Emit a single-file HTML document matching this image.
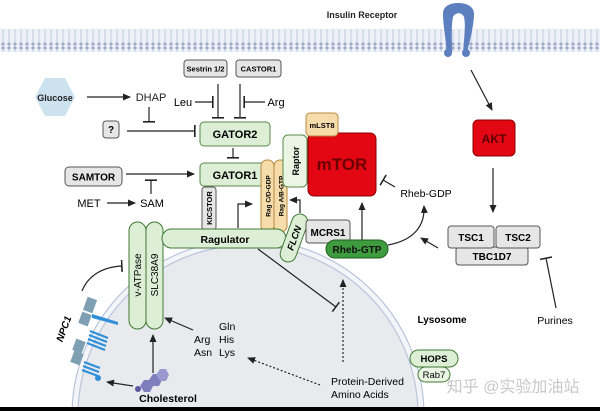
<!DOCTYPE html>
<html><head><meta charset="utf-8"><style>
html,body{margin:0;padding:0;background:#fff;width:600px;height:411px;overflow:hidden;}
svg{display:block;font-family:"Liberation Sans","Noto Sans CJK SC",sans-serif;}
.b{font-weight:bold;}
</style></head><body>
<svg width="600" height="411" viewBox="0 0 600 411" xmlns="http://www.w3.org/2000/svg">
<defs>
<marker id="a" markerWidth="8" markerHeight="8" refX="7" refY="4" orient="auto" markerUnits="userSpaceOnUse"><path d="M0,0.5 L8,4 L0,7.5 Z" fill="#222"/></marker>
<marker id="t" markerWidth="2" markerHeight="12" refX="1" refY="6" orient="auto" markerUnits="userSpaceOnUse"><rect x="0" y="0" width="1.6" height="12" fill="#222"/></marker>
<pattern id="mem" width="6" height="23" patternUnits="userSpaceOnUse"><rect width="6" height="23" fill="#eef2f8"/><circle cx="3" cy="2" r="1.6" fill="#9aa9c6"/><circle cx="3" cy="21" r="1.6" fill="#9aa9c6"/><line x1="2.5" y1="4" x2="2.5" y2="19" stroke="#c5cfe0" stroke-width="0.6"/><line x1="3.8" y1="4" x2="3.8" y2="19" stroke="#c5cfe0" stroke-width="0.6"/></pattern>
</defs>
<rect width="600" height="411" fill="#fff"/>
<rect x="0" y="29" width="600" height="23" fill="url(#mem)"/>
<path d="M447,53 C446,40 443,25 443,14 C443,6 450,3 458,3 C466,3 474,6 474,14 C474,25 470,40 467,53 L463,53 C464,40 466,26 464,17 C462,12 455,12 453,17 C451,26 452,40 452,53 Z" fill="#5b7fbf"/>
<circle cx="448" cy="53" r="4" fill="#5b7fbf"/><circle cx="466" cy="53" r="4" fill="#5b7fbf"/>
<text x="362" y="18" font-size="9" class="b" text-anchor="middle" fill="#222">Insulin Receptor</text>
<path d="M72.2,407 A176,176 0 0 1 423.8,407 Z" fill="#f4f5f8"/>
<path d="M72.2,407 A176,176 0 0 1 423.8,407" fill="none" stroke="#b9c4dc" stroke-width="1.2"/>
<path d="M78.2,407 A170,170 0 0 1 417.8,407 Z" fill="#e9eaee"/>
<path d="M78.2,407 A170,170 0 0 1 417.8,407" fill="none" stroke="#b9c4dc" stroke-width="1.2"/>
<polygon points="45,78 65,78 75,97 65,116 45,116 35,97" fill="#cde2ef"/>
<text x="55" y="101" font-size="9" class="b" text-anchor="middle" fill="#222">Glucose</text>
<g stroke="#222" stroke-width="1.2" fill="none">
<line x1="87" y1="97" x2="130" y2="97" marker-end="url(#a)"/>
<line x1="149" y1="107" x2="149" y2="122" marker-end="url(#t)"/>
<line x1="127" y1="131" x2="195" y2="131" marker-end="url(#t)"/>
<line x1="195" y1="102" x2="213" y2="102" marker-end="url(#t)"/>
<line x1="265" y1="102" x2="244" y2="102" marker-end="url(#t)"/>
<line x1="218" y1="84" x2="218" y2="118" marker-end="url(#t)"/>
<line x1="240" y1="84" x2="240" y2="118" marker-end="url(#t)"/>
<line x1="233" y1="148" x2="233" y2="158" marker-end="url(#t)"/>
<line x1="126" y1="174" x2="194" y2="174" marker-end="url(#a)"/>
<line x1="151" y1="194" x2="151" y2="180" marker-end="url(#t)"/>
<line x1="107" y1="203" x2="135" y2="203" marker-end="url(#a)"/>
<polyline points="238,228 238,204 252,204" marker-end="url(#a)"/>
<polyline points="300,213 300,200 290,200" marker-end="url(#a)"/>
<line x1="362" y1="240" x2="362" y2="203" marker-end="url(#a)"/>
<line x1="395" y1="187" x2="383" y2="180" marker-end="url(#t)"/>
<path d="M388,245 C415,240 425,225 424,206" marker-end="url(#a)"/>
<line x1="471" y1="70" x2="492" y2="110" marker-end="url(#a)"/>
<line x1="493" y1="168" x2="493" y2="212" marker-end="url(#a)"/>
<line x1="438" y1="248" x2="421" y2="238" marker-end="url(#a)"/>
<line x1="556" y1="308" x2="546" y2="258" marker-end="url(#t)"/>
<line x1="258" y1="249" x2="336" y2="307" marker-end="url(#t)"/>
<line x1="343" y1="362" x2="343" y2="280" stroke-dasharray="2,2" marker-end="url(#a)"/>
<line x1="320" y1="385" x2="248" y2="358" stroke-dasharray="2,2" marker-end="url(#a)"/>
<line x1="193" y1="330" x2="165" y2="318" marker-end="url(#a)"/>
<line x1="153" y1="373" x2="153" y2="335" marker-end="url(#a)"/>
<line x1="133" y1="386" x2="107" y2="382" marker-end="url(#a)"/>
<path d="M82,291 C88,276 102,267 122,266" marker-end="url(#t)"/>
</g>
<text x="151" y="101" font-size="11" text-anchor="middle" fill="#222">DHAP</text>
<rect x="103" y="121" width="16" height="17" rx="3" fill="#e6e6e6" stroke="#555"/>
<text x="111" y="133" font-size="10" class="b" text-anchor="middle">?</text>
<rect x="184" y="60" width="43" height="17" rx="3" fill="#e6e6e6" stroke="#555"/>
<text x="205.5" y="71.5" font-size="7.5" class="b" text-anchor="middle">Sestrin 1/2</text>
<rect x="236" y="60" width="45" height="17" rx="3" fill="#e6e6e6" stroke="#555"/>
<text x="258.5" y="71.5" font-size="7.5" class="b" text-anchor="middle">CASTOR1</text>
<text x="183" y="106" font-size="11" text-anchor="middle">Leu</text>
<text x="276" y="106" font-size="11" text-anchor="middle">Arg</text>
<rect x="200" y="122" width="70" height="24" rx="4" fill="#dcefd6" stroke="#5a8a4a"/>
<text x="235" y="138" font-size="11" class="b" text-anchor="middle">GATOR2</text>
<rect x="200" y="163" width="70" height="23" rx="4" fill="#dcefd6" stroke="#5a8a4a"/>
<text x="235" y="179" font-size="11" class="b" text-anchor="middle">GATOR1</text>
<rect x="65" y="167" width="57" height="19" rx="4" fill="#e6e6e6" stroke="#555"/>
<text x="93.5" y="180.5" font-size="10" class="b" text-anchor="middle">SAMTOR</text>
<text x="89" y="207" font-size="11" text-anchor="middle">MET</text>
<text x="152" y="207" font-size="11" text-anchor="middle">SAM</text>
<rect x="202" y="187" width="14" height="43" rx="3" fill="#e6e6e6" stroke="#555"/>
<text transform="translate(212,208) rotate(-90)" font-size="7.5" class="b" text-anchor="middle">KICSTOR</text>
<rect x="261" y="160" width="13" height="72" rx="6" fill="#f5dcaa" stroke="#b88a3e"/>
<rect x="274" y="160" width="13" height="72" rx="6" fill="#f5dcaa" stroke="#b88a3e"/>
<text transform="translate(270.5,196) rotate(-90)" font-size="6.5" class="b" text-anchor="middle">Rag C/D-GDP</text>
<text transform="translate(283.5,196) rotate(-90)" font-size="6.5" class="b" text-anchor="middle">Rag A/B-GTP</text>
<rect x="283" y="135" width="24" height="52" rx="5" fill="#eaf5e4" stroke="#5a8a4a"/>
<text transform="translate(299,161) rotate(-90)" font-size="9" class="b" text-anchor="middle">Raptor</text>
<rect x="308" y="133" width="68" height="63" rx="6" fill="#e30613" stroke="#8a0000"/>
<rect x="306" y="113" width="32" height="23" rx="4" fill="#f5dcaa" stroke="#b88a3e"/>
<text x="322" y="128" font-size="7.5" class="b" text-anchor="middle">mLST8</text>
<text x="342" y="170" font-size="17" class="b" text-anchor="middle" fill="#6a0000">mTOR</text>
<rect x="129" y="222" width="17" height="107" rx="8.5" fill="#dcefd6" stroke="#3f7a32"/>
<rect x="146" y="222" width="17" height="107" rx="8.5" fill="#dcefd6" stroke="#3f7a32"/>
<text transform="translate(141,275) rotate(-90)" font-size="10" text-anchor="middle">v-ATPase</text>
<text transform="translate(158,275) rotate(-90)" font-size="10" text-anchor="middle">SLC38A9</text>
<rect x="162" y="229" width="124" height="19" rx="9.5" fill="#dcefd6" stroke="#3f7a32"/>
<text x="225" y="243" font-size="10.5" class="b" text-anchor="middle">Ragulator</text>
<g transform="translate(294,238) rotate(20)">
<rect x="-8" y="-25" width="16" height="50" rx="8" fill="#dcefd6" stroke="#3f7a32"/>
<text transform="rotate(-90)" y="3.5" font-size="9.5" class="b" font-style="italic" text-anchor="middle">FLCN</text>
</g>
<rect x="306" y="220" width="44" height="23" rx="3" fill="#e6e6e6" stroke="#555"/>
<text x="328" y="236" font-size="10" class="b" text-anchor="middle">MCRS1</text>
<rect x="326" y="240" width="62" height="18" rx="9" fill="#3e9b3e" stroke="#1f5f1f"/>
<text x="357" y="253" font-size="10" class="b" text-anchor="middle" fill="#111">Rheb-GTP</text>
<text x="426" y="197" font-size="10.5" text-anchor="middle">Rheb-GDP</text>
<rect x="473" y="120" width="42" height="36" rx="5" fill="#e30613" stroke="#8a0000"/>
<text x="494" y="143" font-size="12" class="b" text-anchor="middle" fill="#5a0000">AKT</text>
<rect x="456" y="247" width="72" height="18" rx="3" fill="#e6e6e6" stroke="#555"/>
<rect x="448" y="226" width="46" height="22" rx="3" fill="#e6e6e6" stroke="#555"/>
<rect x="496" y="226" width="44" height="22" rx="3" fill="#e6e6e6" stroke="#555"/>
<text x="471" y="241" font-size="10" class="b" text-anchor="middle">TSC1</text>
<text x="518" y="241" font-size="10" class="b" text-anchor="middle">TSC2</text>
<text x="492" y="260" font-size="10" class="b" text-anchor="middle">TBC1D7</text>
<text x="555" y="324" font-size="10.5" text-anchor="middle">Purines</text>
<text x="442" y="323" font-size="10" class="b" text-anchor="middle">Lysosome</text>
<rect x="410" y="350" width="48" height="17" rx="8.5" fill="#dcefd6" stroke="#3f7a32"/>
<text x="434" y="362" font-size="9.5" class="b" text-anchor="middle">HOPS</text>
<rect x="418" y="367" width="32" height="15" rx="7.5" fill="#eaf5e4" stroke="#3f7a32"/>
<text x="434" y="378" font-size="9.5" text-anchor="middle">Rab7</text>
<text x="331" y="385" font-size="10.5">Protein-Derived</text>
<text x="331" y="398" font-size="10.5">Amino Acids</text>
<text x="194" y="343" font-size="10.5">Arg</text>
<text x="194" y="356" font-size="10.5">Asn</text>
<text x="219" y="330" font-size="10.5">Gln</text>
<text x="219" y="343" font-size="10.5">His</text>
<text x="219" y="356" font-size="10.5">Lys</text>
<text x="168" y="402" font-size="10.5" class="b" text-anchor="middle">Cholesterol</text>
<g fill="#7f7fc0"><polygon points="140,386 144,380 150,380 153,386 150,392 144,392"/><polygon points="149,380 153,374 159,374 162,380 159,386 153,386"/><polygon points="156,375 160,369 166,369 169,375 166,381 160,381" fill="#9a9ad0"/><circle cx="138" cy="389" r="3" fill="#5a5aa0"/></g>
<g>
<rect x="85" y="298" width="10" height="14" fill="#7f9fb3" transform="rotate(20 90 305)"/>
<rect x="80" y="313" width="10" height="12" fill="#7f9fb3" transform="rotate(20 85 319)"/>
<rect x="74" y="340" width="10" height="12" fill="#7f9fb3" transform="rotate(20 79 346)"/>
<rect x="72" y="352" width="10" height="12" fill="#7f9fb3" transform="rotate(20 77 358)"/>
<path d="M92,314 L118,322 L118,325 L92,318 Z" fill="#2f8fd8"/>
<path d="M90,331 L108,338 M89,335 L107,342 M88,339 L106,346 M87,343 L105,350" stroke="#2f8fd8" stroke-width="2.2"/>
<path d="M84,362 L100,368 M83,366 L99,372 M82,370 L98,376" stroke="#2f8fd8" stroke-width="2.2"/>
<circle cx="98" cy="378" r="3" fill="#2f8fd8"/>
</g>
<text transform="translate(67,330) rotate(-70)" font-size="10" class="b" font-style="italic" text-anchor="middle">NPC1</text>
<text x="513" y="392" font-size="16" fill="#c8c8c8" text-anchor="middle">知乎 @实验加油站</text>
<rect x="0" y="407" width="600" height="4" fill="#000"/>
</svg>
</body></html>
